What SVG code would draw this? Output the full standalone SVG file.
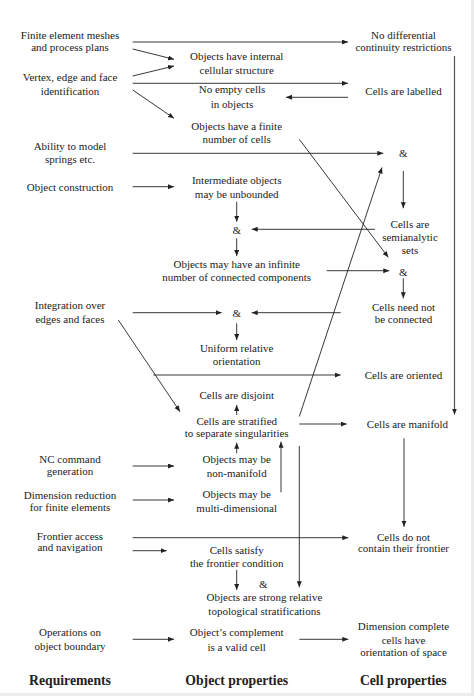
<svg xmlns="http://www.w3.org/2000/svg" width="474" height="696" viewBox="0 0 474 696">
<defs>
<marker id="ah" markerUnits="userSpaceOnUse" markerWidth="7" markerHeight="6" refX="6" refY="2.5" orient="auto">
<path d="M0,0 L6,2.5 L0,5 z" fill="#222"/>
</marker>
<style>
text{font-family:"Liberation Serif","Times New Roman",serif;font-size:11px;fill:#222;text-anchor:middle}
.h{font-weight:bold;font-size:13.7px}
.c path{fill:none;stroke:#222;stroke-width:0.9;marker-end:url(#ah)}
</style>
</defs>
<rect x="0" y="0" width="474" height="696" fill="#ffffff"/>
<rect x="471" y="0" width="3" height="696" fill="#ececec"/>
<rect x="0" y="693" width="474" height="3" fill="#ececec"/>

<g id="requirements">
<g id="r1"><text x="70" y="38.8">Finite element meshes</text><text x="70" y="51.3">and process plans</text></g>
<g id="r2"><text x="70" y="81">Vertex, edge and face</text><text x="70" y="94.5">identification</text></g>
<g id="r3"><text x="70" y="149.5">Ability to model</text><text x="70" y="163">springs etc.</text></g>
<g id="r4"><text x="70" y="190.5">Object construction</text></g>
<g id="r5"><text x="70" y="308.8">Integration over</text><text x="70" y="322.8">edges and faces</text></g>
<g id="r6"><text x="70" y="462.8">NC command</text><text x="70" y="474.5">generation</text></g>
<g id="r7"><text x="70" y="498.8">Dimension reduction</text><text x="70" y="510.5">for finite elements</text></g>
<g id="r8"><text x="70" y="539.5">Frontier access</text><text x="70" y="551">and navigation</text></g>
<g id="r9"><text x="70" y="635.5">Operations on</text><text x="70" y="649.5">object boundary</text></g>
</g>

<g id="objects">
<g id="o1"><text x="236.7" y="59.8">Objects have internal</text><text x="236.7" y="73.8">cellular structure</text></g>
<g id="o2"><text x="232" y="93">No empty cells</text><text x="232" y="107.8">in objects</text></g>
<g id="o3"><text x="236.7" y="129.8">Objects have a finite</text><text x="236.7" y="143">number of cells</text></g>
<g id="o4"><text x="236.7" y="183.8">Intermediate objects</text><text x="236.7" y="197.8">may be unbounded</text></g>
<g id="and1"><text x="236.7" y="233.8">&amp;</text></g>
<g id="o5"><text x="236.7" y="267.8">Objects may have an infinite</text><text x="236.7" y="281">number of connected components</text></g>
<g id="and2"><text x="236.7" y="317">&amp;</text></g>
<g id="o6"><text x="236.7" y="352">Uniform relative</text><text x="236.7" y="364.8">orientation</text></g>
<g id="o7"><text x="236.7" y="398.8">Cells are disjoint</text></g>
<g id="o8"><text x="236.7" y="424.8">Cells are stratified</text><text x="236.7" y="437">to separate singularities</text></g>
<g id="o9"><text x="236.7" y="462.8">Objects may be</text><text x="236.7" y="477">non-manifold</text></g>
<g id="o10"><text x="236.7" y="497.8">Objects may be</text><text x="236.7" y="512">multi-dimensional</text></g>
<g id="o11"><text x="236.7" y="553.8">Cells satisfy</text><text x="236.7" y="567">the frontier condition</text></g>
<g id="and3"><text x="263.3" y="587.8">&amp;</text></g>
<g id="o12"><text x="264.4" y="601">Objects are strong relative</text><text x="264.4" y="614.5">topological stratifications</text></g>
<g id="o13"><text x="236.7" y="636">Object’s complement</text><text x="236.7" y="650.5">is a valid cell</text></g>
</g>

<g id="cells">
<g id="c1"><text x="403.5" y="38.8">No differential</text><text x="403.5" y="51">continuity restrictions</text></g>
<g id="c2"><text x="403.5" y="94.5">Cells are labelled</text></g>
<g id="and4"><text x="403.3" y="157">&amp;</text></g>
<g id="c3"><text x="410" y="227.8">Cells are</text><text x="410" y="240.5">semianalytic</text><text x="410" y="253.8">sets</text></g>
<g id="and5"><text x="403.3" y="275.5">&amp;</text></g>
<g id="c4"><text x="403.5" y="310.5">Cells need not</text><text x="403.5" y="322.8">be connected</text></g>
<g id="c5"><text x="403.5" y="378.8">Cells are oriented</text></g>
<g id="c6"><text x="407.5" y="427.8">Cells are manifold</text></g>
<g id="c7"><text x="403.5" y="540.5">Cells do not</text><text x="403.5" y="552">contain their frontier</text></g>
<g id="c8"><text x="403.5" y="629.8">Dimension complete</text><text x="403.5" y="643.8">cells have</text><text x="403.5" y="656">orientation of space</text></g>
</g>

<g id="headings">
<text class="h" x="70" y="684.8">Requirements</text>
<text class="h" x="236.7" y="684.8">Object properties</text>
<text class="h" x="403.3" y="684.8">Cell properties</text>
</g>

<g id="connectors" class="c">
<path d="M132.7,42 H348"/>
<path d="M132.7,49 L174,59.3"/>
<path d="M132.7,76 L174,66"/>
<path d="M132.7,83.3 H348"/>
<path d="M132.7,90 L174,118.3"/>
<path d="M348,97.3 H286"/>
<path d="M454.5,56 V414.5" style="stroke:#555;stroke-width:1.2"/>
<path d="M132.7,153.3 H383.3"/>
<path d="M299.3,139.3 L388.3,257.3"/>
<path d="M403.3,171 V208.3"/>
<path d="M299.3,416.5 L382,167.5"/>
<path d="M132.7,186.7 H174"/>
<path d="M236.7,201.7 V221.7"/>
<path d="M375,229.3 H251.7"/>
<path d="M236.7,238.3 V256"/>
<path d="M326.7,270.7 H389.3"/>
<path d="M403.3,278.3 V298.3"/>
<path d="M340.7,312.7 H251.7"/>
<path d="M132.7,312.7 H221.7"/>
<path d="M236.7,323.3 V340"/>
<path d="M118.3,320 L180,411.7"/>
<path d="M153.3,375 H340.7"/>
<path d="M236.7,415 V405"/>
<path d="M299.3,424 H346.7"/>
<path d="M236.7,453.3 V442.7"/>
<path d="M132.7,466 H174"/>
<path d="M281,492.3 V441.7"/>
<path d="M132.7,500 H174"/>
<path d="M299.3,446 V587.3"/>
<path d="M404,438.3 V526.7"/>
<path d="M132.7,537.7 H348.3"/>
<path d="M132.7,550.7 H166.7"/>
<path d="M236.7,570 V590"/>
<path d="M132.7,639.3 H174"/>
<path d="M299.3,639.3 H348.3"/>
</g>
</svg>
